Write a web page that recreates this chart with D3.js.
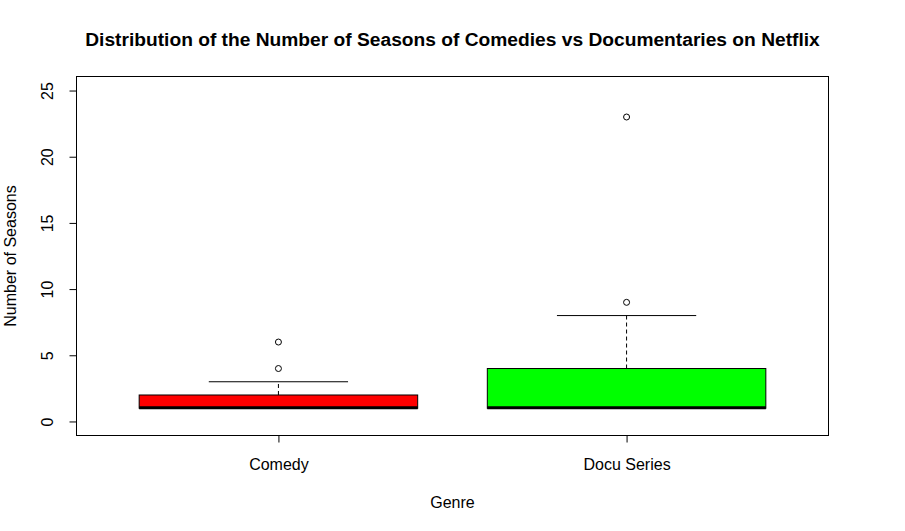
<!DOCTYPE html>
<html><head><meta charset="utf-8">
<script src="https://cdn.jsdelivr.net/npm/d3@7"></script>
<style>body{margin:0;background:#fff}svg{display:block}text{font-family:"Liberation Sans",Arial,sans-serif}</style>
</head><body>
<script>
const categories = ["Comedy", "Docu Series"];
const boxColors = ["#FF0000", "#00FF00"];
const q1 = [1, 1];
const medians = [1, 1];
const q3 = [2, 4];
const whiskerLow = [1, 1];
const whiskerHigh = [3, 8];
const outliers = [[4, 6], [9, 23]];
const yTicks = [0, 5, 10, 15, 20, 25];

(function(){
const W = 905, H = 531;
const pL = 76.5, pR = 828.5, pT = 76.5, pB = 435.5;
const fs = 16;
const svg = d3.select("body").append("svg").attr("width", W).attr("height", H);

const x = d3.scaleLinear().domain([0.42, 2.58]).range([pL, pR]);
const y = d3.scaleLinear().domain([-1.06, 26.06]).range([pB, pT]);
const boxW = x(1.8) - x(1);

svg.append("rect").attr("x", pL).attr("y", pT).attr("width", pR - pL).attr("height", pB - pT)
  .attr("fill", "none").attr("stroke", "#000").attr("stroke-width", 1);

// y axis
const yAxis = d3.axisLeft(y).tickValues(yTicks).tickSize(7).tickFormat(d3.format("d"));
const ya = svg.append("g").attr("transform", `translate(${pL},0)`).call(yAxis);
ya.select(".domain").remove();
ya.selectAll("line").attr("stroke", "#000");
ya.selectAll(".tick text").remove();
ya.selectAll(".tick").append("text")
  .attr("transform", "translate(-24,0) rotate(-90)")
  .attr("text-anchor", "middle")
  .attr("font-size", fs).attr("fill", "#000")
  .text(d => d);

// x axis
const xAxis = d3.axisBottom(x).tickValues([1, 2]).tickSize(7).tickFormat(d => categories[d - 1]);
const xa = svg.append("g").attr("transform", `translate(0,${pB})`).call(xAxis);
xa.select(".domain").remove();
xa.selectAll("line").attr("stroke", "#000");
xa.selectAll("text").attr("font-size", fs).attr("fill", "#000").attr("y", 470 - pB).attr("dy", 0);

// boxes
categories.forEach((c, i) => {
  const cx = x(i + 1);
  const g = svg.append("g");
  g.append("line").attr("x1", cx).attr("x2", cx).attr("y1", y(q3[i])).attr("y2", y(whiskerHigh[i]))
    .attr("stroke", "#000").attr("stroke-dasharray", "4,3");
  g.append("line").attr("x1", cx).attr("x2", cx).attr("y1", y(q1[i])).attr("y2", y(whiskerLow[i]))
    .attr("stroke", "#000").attr("stroke-dasharray", "4,3");
  g.append("line").attr("x1", cx - boxW / 4).attr("x2", cx + boxW / 4).attr("y1", y(whiskerHigh[i])).attr("y2", y(whiskerHigh[i]))
    .attr("stroke", "#000");
  g.append("line").attr("x1", cx - boxW / 4).attr("x2", cx + boxW / 4).attr("y1", y(whiskerLow[i])).attr("y2", y(whiskerLow[i]))
    .attr("stroke", "#000");
  g.append("rect").attr("x", cx - boxW / 2).attr("y", y(q3[i])).attr("width", boxW).attr("height", y(q1[i]) - y(q3[i]))
    .attr("fill", boxColors[i]).attr("stroke", "#000");
  g.append("line").attr("x1", cx - boxW / 2).attr("x2", cx + boxW / 2).attr("y1", y(medians[i]) - 0.5).attr("y2", y(medians[i]) - 0.5)
    .attr("stroke", "#000").attr("stroke-width", 3);
  g.selectAll("circle").data(outliers[i]).enter().append("circle")
    .attr("cx", cx).attr("cy", d => y(d)).attr("r", 3).attr("fill", "none").attr("stroke", "#000");
});

// titles
svg.append("text").attr("x", (pL + pR) / 2).attr("y", 46).attr("text-anchor", "middle")
  .attr("font-size", 19.2).attr("font-weight", "bold").text("Distribution of the Number of Seasons of Comedies vs Documentaries on Netflix");
svg.append("text").attr("x", (pL + pR) / 2).attr("y", 508).attr("text-anchor", "middle")
  .attr("font-size", fs).text("Genre");
svg.append("text").attr("transform", `translate(16,${(pT + pB) / 2}) rotate(-90)`).attr("text-anchor", "middle")
  .attr("font-size", fs).text("Number of Seasons");
})();
</script>
</body></html>
